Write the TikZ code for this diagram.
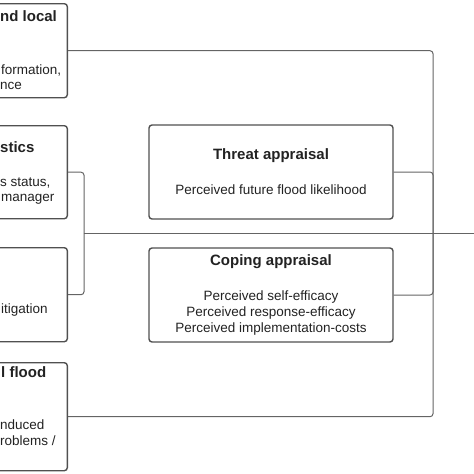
\documentclass[tikz,border=0pt]{standalone}
\usepackage{fontspec}
\setmainfont{Liberation Sans}
\usepackage{tikz}
\definecolor{boxline}{HTML}{505050}
\definecolor{connline}{HTML}{646464}
\definecolor{inkgray}{HTML}{222222}
\tikzset{
  box/.style      = {draw=boxline,line width=1.4pt,rounded corners=3pt,inner sep=0pt},
  conn/.style     = {draw=connline,line width=1pt,rounded corners=3pt},
  titletxt/.style = {font=\bfseries\fontsize{15}{17}\selectfont,text=inkgray},
  bodytxt/.style  = {font=\fontsize{13.5}{16}\selectfont,text=inkgray},
  frag/.style     = {anchor=west,inner sep=0pt}
}
\begin{document}
\begin{tikzpicture}[x=1pt,y=-1pt]
  \useasboundingbox (0,0) rectangle (474,474);
  \clip (0,0) rectangle (474,474);
  % left column, cut by the page edge
  \node[box,anchor=north east,minimum width=190pt,minimum height=94pt]  (exp)  at (68,3)   {};
  \node[box,anchor=north east,minimum width=190pt,minimum height=93pt]  (char) at (68,125) {};
  \node[box,anchor=north east,minimum width=190pt,minimum height=94pt]  (mit)  at (68,247) {};
  \node[box,anchor=north east,minimum width=190pt,minimum height=108pt] (fld)  at (68,362) {};
  \node[frag,titletxt] (exp-t)  at (0,16)  {nd local};
  \node[frag,bodytxt]  (exp-a)  at (1,70)  {formation,};
  \node[frag,bodytxt]  (exp-b)  at (0,86)  {nce};
  \node[frag,titletxt] (char-t) at (0,147) {stics};
  \node[frag,bodytxt]  (char-a) at (0,183) {s status,};
  \node[frag,bodytxt]  (char-b) at (1,199) {manager};
  \node[frag,bodytxt]  (mit-a)  at (1,310) {itigation};
  \node[frag,titletxt] (fld-t)  at (1,372) {l flood};
  \node[frag,bodytxt]  (fld-a)  at (0,425) {nduced};
  \node[frag,bodytxt]  (fld-b)  at (0,441) {roblems /};
  % appraisal boxes
  \node[box,bodytxt,align=center,minimum width=244pt,minimum height=94pt] (threat) at (271,172)
    {{\bfseries\fontsize{15}{17}\selectfont Threat appraisal}\\[19pt]Perceived future flood likelihood};
  \node[box,bodytxt,align=center,minimum width=244pt,minimum height=94pt] (coping) at (271,295)
    {{\bfseries\fontsize{15}{17}\selectfont Coping appraisal}\\[19pt]Perceived self-efficacy\\Perceived response-efficacy\\Perceived implementation-costs};
  % junctions
  \coordinate (ljoin) at (84,233);
  \coordinate (rjoin) at (433,233);
  \coordinate (out)   at (480,233);
  \draw[conn] (exp.east)    -| (rjoin);
  \draw[conn] (fld.east)    -| (rjoin);
  \draw[conn] (threat.east) -| (rjoin);
  \draw[conn] (coping.east) -| (rjoin);
  \draw[conn] (char.east)   -| (ljoin);
  \draw[conn] (mit.east)    -| (ljoin);
  \draw[conn] (ljoin) -- (out);
\end{tikzpicture}
\end{document}
